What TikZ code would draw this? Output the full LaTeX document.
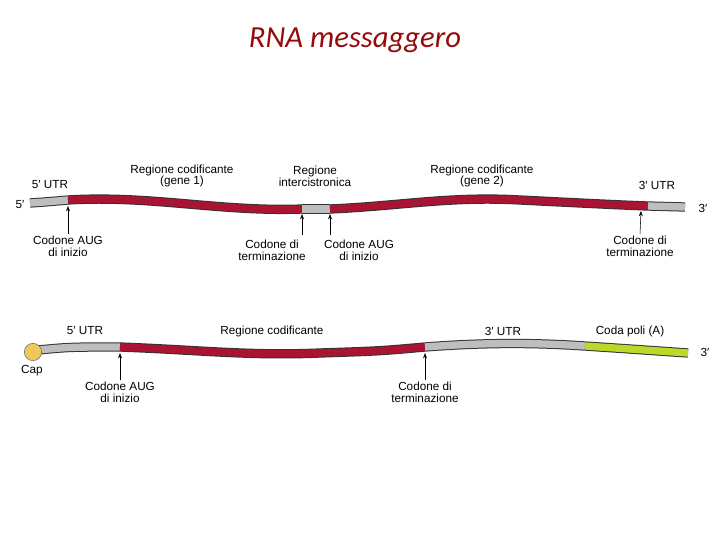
\documentclass[tikz,border=0pt]{standalone}
\usepackage{fontspec}
\setmainfont{Liberation Sans}
\newfontfamily\titlefont{Carlito}
\usetikzlibrary{arrows.meta}
\definecolor{rnared}{RGB}{170,20,50}
\definecolor{utrgray}{RGB}{190,190,192}
\definecolor{polyA}{RGB}{190,215,40}
\definecolor{titlered}{RGB}{150,10,10}
\definecolor{capfill}{RGB}{240,200,90}
\tikzset{
    lbl/.style={font=\fontsize{8.8}{8.8}\selectfont, align=center, inner sep=1pt},
    band/.style={line width=5.5pt, draw=#1, preaction={draw=black!80, line width=7pt}},
    pointer/.style={-{Stealth[length=4pt,width=3pt]}, thin},
}
\begin{document}
\begin{tikzpicture}[x=0.75pt, y=-0.75pt]
    \useasboundingbox (0,0) rectangle (720,540);

    \node[font=\titlefont\itshape\fontsize{23}{23}\selectfont, text=titlered] (title) at (355,40) {RNA messaggero};

    % first mRNA
    \draw[band=utrgray] (30,203) .. controls (45,202) .. (68,200);
    \draw[band=rnared] (68,200) .. controls (150,195) and (220,212) .. (302,209);
    \draw[band=utrgray] (302,209) -- (330,209);
    \draw[band=rnared] (330,209) .. controls (400,206) and (450,196) .. (520,200) .. controls (580,203) and (620,205) .. (648,206);
    \draw[band=utrgray] (648,206) -- (685,207);

    \node[lbl] (utr5a) at (50,185) {5′ UTR};
    \node[lbl] (cod1) at (182,176) {Regione codificante\\(gene 1)};
    \node[lbl] (inter) at (315,176) {Regione\\intercistronica};
    \node[lbl] (cod2) at (482,176) {Regione codificante\\(gene 2)};
    \node[lbl] (utr3a) at (657,185) {3′ UTR};
    \node[lbl] (endfive) at (20,205) {5′};
    \node[lbl] (endthree) at (703,208) {3′};

    \node[lbl] (startA) at (68,246) {Codone AUG\\di inizio};
    \node[lbl] (stopA) at (272,250) {Codone di\\terminazione};
    \node[lbl] (startB) at (359,250) {Codone AUG\\di inizio};
    \node[lbl] (stopB) at (640,246) {Codone di\\terminazione};
    \coordinate (p1) at (68,206);
    \coordinate (p2) at (302,214);
    \coordinate (p3) at (330,214);
    \coordinate (p4) at (641,211);
    \draw[pointer] (startA.north) -- (p1);
    \draw[pointer] (302,235) -- (p2);
    \draw[pointer] (330,235) -- (p3);
    \draw[pointer] (stopB.north) -- (p4);

    % second mRNA
    \draw[band=utrgray] (38,350) .. controls (70,347) .. (120,347);
    \draw[band=rnared] (120,347) .. controls (200,350) and (250,356) .. (320,353) .. controls (380,351) .. (425,347);
    \draw[band=utrgray] (425,347) .. controls (490,342) and (540,343) .. (585,346);
    \draw[band=polyA] (585,346) .. controls (630,349) .. (688,353);
    \node[circle, draw=black!60, fill=capfill, minimum size=13pt, inner sep=0pt] (cap) at (33,352) {};

    \node[lbl] (utr5b) at (85,331) {5′ UTR};
    \node[lbl] (codb) at (272,331) {Regione codificante};
    \node[lbl] (utr3b) at (503,331) {3′ UTR};
    \node[lbl] (polya) at (630,331) {Coda poli (A)};
    \node[lbl] (caplbl) at (32,371) {Cap};
    \node[lbl] (endthreeb) at (705,352) {3′};

    \node[lbl] (startC) at (120,392) {Codone AUG\\di inizio};
    \node[lbl] (stopC) at (425,392) {Codone di\\terminazione};
    \coordinate (p5) at (120,353);
    \coordinate (p6) at (425,353);
    \draw[pointer] (startC.north) -- (p5);
    \draw[pointer] (stopC.north) -- (p6);
\end{tikzpicture}
\end{document}
